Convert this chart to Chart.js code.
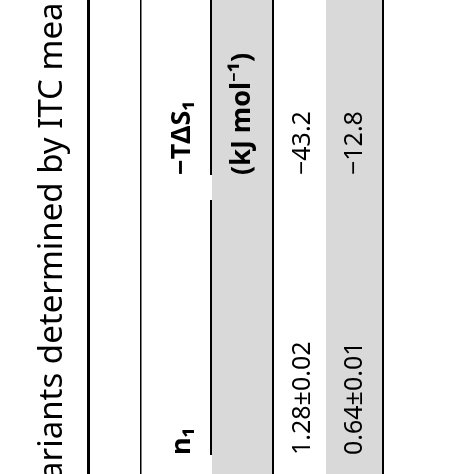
<!DOCTYPE html>
<html>
<head>
<script src="https://cdn.jsdelivr.net/npm/chart.js@4"></script>
<style>html,body{margin:0;padding:0;background:#fff}#c{display:block}</style>
</head>
<body>
<canvas id="c" width="474" height="474"></canvas>
<script>
// table content (image is rotated 90deg counter-clockwise)
const title = 'ariants determined by ITC mea';
const headers = ['n\u2081', '\u2212T\u0394S\u2081'];
const units = ['', '(kJ mol\u207B\u00B9)'];
const row1 = ['1.28\u00B10.02', '\u221243.2'];
const row2 = ['0.64\u00B10.01', '\u221212.8'];

// column start positions along the (rotated) text direction, canvas y
const colStart = [455, 175];

function vtext(ctx, txt, x, y, font) {
    ctx.save();
    ctx.translate(x, y);
    ctx.rotate(-Math.PI / 2);
    ctx.font = font;
    ctx.fillStyle = '#000';
    ctx.textBaseline = 'alphabetic';
    ctx.fillText(txt, 0, 0);
    ctx.restore();
}

const tablePlugin = {
    id: 'table',
    beforeDraw(chart) {
        const ctx = chart.ctx;
        ctx.save();
        ctx.fillStyle = '#fff';
        ctx.fillRect(0, 0, 474, 474);
        ctx.fillStyle = '#d9d9d9';
        ctx.fillRect(212, 0, 60, 474);
        ctx.fillRect(326, 0, 56, 474);
        ctx.fillStyle = '#000';
        ctx.fillRect(87, 0, 3, 474);
        ctx.fillRect(140, 0, 1.5, 474);
        ctx.fillRect(210, 0, 2, 175);
        ctx.fillRect(210, 200, 2, 255);
        ctx.fillRect(272, 0, 2, 474);
        ctx.fillRect(382, 0, 2, 474);
        ctx.restore();

        vtext(ctx, title, 62, 480, '33px "Noto Sans"');
        const bold = 'bold 27px "Noto Sans"';
        const norm = '25px "Noto Sans"';
        headers.forEach((h, i) => vtext(ctx, h, 190, colStart[i], bold));
        units.forEach((u, i) => vtext(ctx, u, 250, colStart[i], bold));
        row1.forEach((v, i) => vtext(ctx, v, 310, colStart[i], norm));
        row2.forEach((v, i) => vtext(ctx, v, 362, colStart[i], norm));
    }
};

new Chart(document.getElementById('c'), {
    type: 'scatter',
    data: { datasets: [{ data: [] }] },
    options: {
        responsive: false,
        animation: false,
        plugins: { legend: { display: false }, tooltip: { enabled: false } },
        scales: { x: { display: false }, y: { display: false } }
    },
    plugins: [tablePlugin]
});
</script>
</body>
</html>
